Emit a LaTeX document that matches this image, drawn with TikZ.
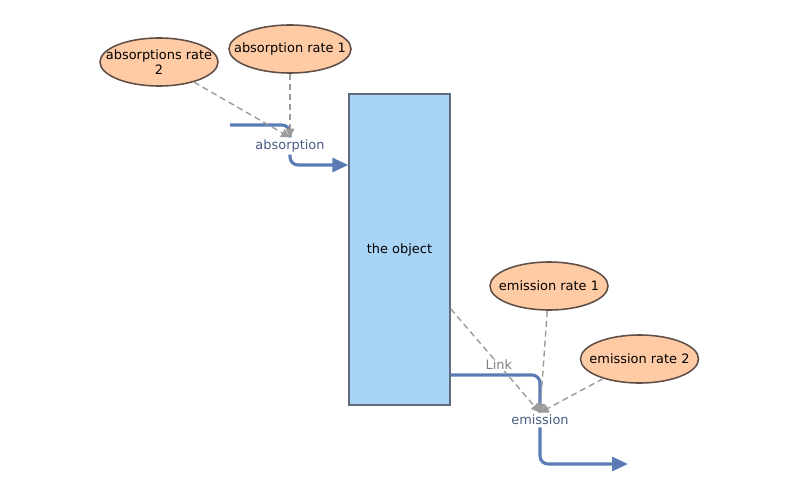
\documentclass[tikz,border=0pt]{standalone}
\usepackage{fontspec}
\setmainfont{DejaVu Sans}
\usetikzlibrary{shapes.geometric,arrows.meta}
\definecolor{peach}{HTML}{FFCBA4}
\definecolor{rateedge}{HTML}{5E4E46}
\definecolor{stockfill}{HTML}{A8D4F6}
\definecolor{stockedge}{HTML}{5F6B7C}
\definecolor{flowblue}{HTML}{5B7BB5}
\definecolor{valvetext}{HTML}{4A5C84}
\definecolor{linkgray}{HTML}{9C9C9C}
\begin{document}
\begin{tikzpicture}[x=0.025cm,y=-0.025cm,
    font=\fontsize{9.2}{10.5}\selectfont,
    rate/.style={ellipse,draw=rateedge,fill=peach,line width=1.1pt,
        minimum width=2.95cm,minimum height=1.2cm,inner xsep=-0.4cm,
        inner ysep=1pt,align=center},
    stock/.style={draw=stockedge,fill=stockfill,line width=1pt,
        minimum width=2.525cm,minimum height=7.775cm},
    valve/.style={text=valvetext,inner sep=1.5pt},
    flow/.style={draw=flowblue,line width=2.2pt,rounded corners=0.2cm},
    flowtip/.style={-{Triangle[length=0.4cm,width=0.35cm]}},
    link/.style={draw=linkgray,dashed,dash pattern=on 0.15cm off 0.1cm,
        line width=1pt,-{Triangle[length=0.22cm,width=0.22cm]}}]
    \useasboundingbox (0,0) rectangle (800,486);

    % stock
    \node[stock] (obj) at (399.5,249.5) {the object};

    % inflow
    \coordinate (absin) at (230,125);
    \node[valve] (absorb) at (290,146) {absorption};
    \draw[flow] (absin) -| (absorb.north);
    \draw[flow,flowtip] (absorb.south) |- (obj.west |- 0,165);

    % outflow
    \coordinate (emout) at (628,464);
    \node[valve] (emit) at (540,420) {emission};
    \draw[flow] (obj.east |- 0,375) -| (emit.north);
    \draw[flow,flowtip] (emit.south) |- (emout);

    % rates
    \node[rate] (absrtwo) at (159,62) {absorptions rate\\2};
    \node[rate,minimum width=3.05cm] (absrone) at (290,49) {absorption rate 1};
    \node[rate] (emrone) at (549,286) {emission rate 1};
    \node[rate] (emrtwo) at (639.5,359) {emission rate 2};

    % links
    \draw[link] (absrtwo) -- (absorb.north);
    \draw[link] (absrone) -- (absorb.north);
    \draw[link] (emrone) -- (emit.north);
    \draw[link] (emrtwo) -- (emit.north);
    \draw[link] (obj) -- (emit.north)
        node[pos=0.54,fill=white,text=gray,inner sep=1pt] {Link};
\end{tikzpicture}
\end{document}
